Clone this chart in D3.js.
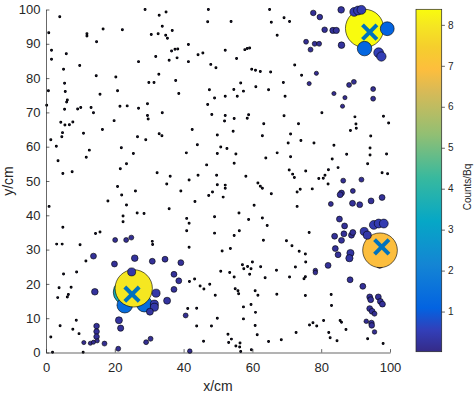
<!DOCTYPE html>
<html>
<head>
<meta charset="utf-8">
<script src="https://cdn.jsdelivr.net/npm/d3@7"></script>
<style>
  html, body { margin: 0; padding: 0; background: #fff; }
  svg { display: block; }
  text { font-family: "Liberation Sans", Arial, sans-serif; fill: #262626; }
</style>
</head>
<body>
<div id="screen"></div>
<script>
// tick labels
var xTicks = [0, 20, 40, 60, 80, 100];
var yTicks = [0, 10, 20, 30, 40, 50, 60, 70, 80, 90, 100];
var cbTicks = [1, 2, 3, 4, 5, 6, 7, 8];
var countRange = [0.02, 8.38];   // colour limits of the colour bar

// positions with (almost) no counts, drawn as tiny dots
var dotCount = 0.02;
var dots = [
  [28.8,100.0],[4.0,97.9],[32.9,98.3],[34.9,99.3],[47.2,100.0],[47.0,96.4],[16.6,94.3],[22.2,94.1],
  [11.9,92.9],[11.9,92.3],[33.8,95.1],[30.6,92.7],[32.6,92.9],[34.8,92.5],[35.3,91.6],[36.7,93.9],
  [14.7,90.6],[0.8,93.2],[41.4,89.8],[1.6,88.1],[5.9,87.1],[1.6,85.5],[36.5,87.9],[37.5,88.4],
  [38.3,88.5],[31.9,86.3],[35.8,85.2],[38.1,85.9],[41.4,84.8],[44.2,86.8],[45.6,87.3],[47.9,84.0],
  [49.4,83.0],[26.9,84.8],[9.8,83.7],[5.1,82.6],[14.6,80.7],[20.3,80.3],[32.8,81.1],[29.9,78.7],
  [31.4,78.7],[37.7,79.3],[5.4,78.5],[5.6,76.1],[0.7,76.3],[20.8,76.3],[15.7,75.3],[38.6,75.5],
  [47.5,76.6],[49.0,74.2],[6.2,73.6],[6.0,73.0],[0.2,72.1],[5.4,70.9],[9.2,71.0],[10.1,71.4],
  [13.1,71.4],[13.8,69.9],[21.5,71.8],[23.6,71.9],[26.9,71.2],[29.5,72.5],[33.8,69.9],[29.5,69.1],
  [29.7,68.1],[47.0,72.3],[48.2,69.4],[4.3,67.1],[5.5,66.3],[6.8,66.4],[7.8,67.2],[19.8,67.6],
  [65.0,100.0],[53.8,96.5],[65.5,96.3],[69.2,97.6],[70.8,96.5],[67.2,92.5],[52.1,88.1],[57.8,88.3],
  [58.5,88.6],[59.2,88.8],[55.4,85.7],[72.3,83.8],[59.8,82.6],[60.9,82.3],[62.3,81.9],[65.3,81.8],
  [74.3,80.8],[54.6,76.7],[56.6,78.6],[57.4,76.2],[61.0,77.5],[64.7,76.6],[69.0,78.7],[52.1,74.7],
  [55.6,74.7],[69.5,74.7],[52.1,69.1],[51.9,67.5],[54.7,68.2],[58.9,69.3],[58.5,68.3],[69.2,69.0],
  [73.4,66.7],[63.3,66.7],[80.2,69.9],[89.8,68.7],[98.1,68.9],
  [10.9,63.9],[16.4,65.0],[1.4,62.0],[4.8,64.1],[4.6,62.9],[3.0,60.1],[3.5,55.9],[4.9,52.2],
  [7.6,52.7],[12.6,59.0],[11.7,56.9],[21.9,59.7],[25.4,58.0],[26.6,62.9],[29.0,62.0],[32.9,63.8],
  [33.7,63.2],[23.4,55.0],[21.6,53.6],[32.3,52.4],[36.1,51.4],[35.1,49.1],[20.8,48.4],[22.0,45.9],
  [26.0,47.1],[18.0,44.2],[23.4,43.0],[0.9,42.6],[26.5,40.7],[28.5,40.5],[22.4,39.8],[22.4,38.1],
  [35.8,41.9],[39.2,47.1],[40.8,58.2],[42.5,65.0],[44.0,60.6],[46.7,54.7],[44.2,51.7],[41.6,50.3],
  [49.6,51.7],[49.8,48.9],[47.3,45.8],[48.4,46.8],[43.3,44.0],[40.9,39.1],[41.6,37.7],[40.9,35.5],
  [49.0,39.6],[49.0,34.8],[49.8,58.0],[49.8,63.4],[4.9,36.5],[14.4,34.7],[15.7,35.1],
  [54.4,64.5],[62.9,63.2],[50.8,59.9],[52.6,59.5],[55.2,57.9],[54.7,55.2],[71.1,63.7],[70.4,61.1],
  [74.1,61.8],[77.9,61.1],[67.2,58.2],[63.9,56.7],[71.1,57.1],[70.7,53.2],[71.7,52.0],[72.2,51.0],
  [75.5,52.9],[58.1,51.4],[61.6,49.4],[62.3,48.5],[62.9,47.9],[52.1,48.8],[52.1,47.9],[51.5,45.3],
  [65.5,46.3],[73.0,46.8],[73.9,47.6],[77.4,47.7],[79.3,50.7],[80.6,50.8],[81.1,51.7],[82.1,53.3],
  [82.0,49.1],[84.9,53.9],[83.2,56.4],[83.7,60.4],[87.4,57.8],[88.5,64.7],[90.1,66.6],[90.2,65.4],
  [94.4,63.1],[94.2,59.6],[94.2,57.6],[99.0,57.9],[93.5,55.0],[97.7,52.4],[99.3,52.1],[99.6,66.9],
  [56.1,40.7],[58.9,38.8],[60.5,42.9],[62.9,39.2],[64.3,37.0],[73.0,42.6],[54.7,34.1],[56.2,35.5],
  [63.2,32.7],[76.5,35.0],[69.9,32.6],
  [3.1,31.6],[4.7,31.6],[9.9,31.4],[30.9,32.4],[31.0,31.5],[41.6,30.7],[11.6,26.7],[5.1,22.9],
  [8.9,23.5],[3.8,18.9],[7.3,19.0],[3.4,16.0],[6.2,16.2],[6.5,16.9],[8.8,9.4],[4.1,7.8],
  [7.8,6.8],[9.6,5.5],[1.4,4.5],[1.9,0.1],[10.8,0.1],[41.2,12.8],[43.8,12.9],[41.7,20.7],
  [43.2,21.4],[44.8,19.4],[45.9,18.5],[47.6,19.9],[49.2,16.7],[43.8,7.7],[48.1,7.7],[49.8,10.0],
  [45.8,3.3],
  [51.2,29.6],[53.6,30.3],[71.5,31.1],[73.6,29.5],[75.4,28.7],[75.5,26.4],[72.5,24.9],[70.8,22.0],
  [75.0,21.5],[75.4,22.1],[85.5,9.3],[85.9,8.8],[87.2,6.7],[84.6,3.4],[82.2,5.8],[82.6,4.3],
  [80.7,9.3],[78.7,7.7],[77.6,8.7],[76.6,8.0],[72.7,5.8],[68.4,3.7],[64.7,3.2],[75.4,16.6],
  [67.1,17.0],[61.6,16.7],[60.8,18.0],[55.8,18.0],[55.0,18.6],[56.0,17.1],[57.4,13.3],[59.6,14.0],
  [60.9,11.7],[57.4,9.8],[60.8,7.9],[61.4,5.2],[52.9,5.3],[53.9,3.9],[53.1,2.9],[55.2,1.9],
  [56.4,2.8],[56.3,1.6],[56.6,0.3],[59.7,0.8],[50.8,23.7],[53.4,23.3],[54.7,22.0],[57.1,25.6],
  [57.5,24.4],[58.6,25.1],[59.6,24.4],[60.0,26.4],[59.2,22.8],[62.4,25.0],[63.7,21.8],[67.0,24.0],
  [98.0,2.6],[93.5,4.0],[82.9,16.9],[83.0,13.7]
];

// positions with counts: [x, y, counts/Bq], in drawing order
var hitsUnder = [
  [23.2,17.6,3.6],[22.9,13.8,1.4],[28.6,14.1,1.4],[97.0,25.5,0.25]
];
var hitsBig = [
  [25.5,18.7,8.0],[92.6,94.5,8.38],[97.1,29.8,6.9]
];
var hitsTopRight = [
  [77.7,99.0,0.18],[79.6,97.8,0.18],[85.8,99.9,0.25],[89.6,99.3,0.45],[90.7,99.7,0.45],[91.7,99.9,0.45],
  [81.0,94.1,0.18],[83.4,93.9,0.22],[84.4,93.9,0.22],[75.6,90.6,0.14],[78.1,90.0,0.14],[79.4,90.0,0.14],
  [76.9,88.3,0.14],[85.9,89.6,0.25],[92.6,88.6,1.2],[99.2,94.4,1.1],[96.7,87.4,0.55],[97.5,86.3,0.5],
  [88.1,78.0,0.14],[89.5,78.9,0.14],[95.1,76.8,0.14],[95.1,74.0,0.14],[83.7,75.5,0.1],[86.9,74.3,0.1],
  [86.2,71.8,0.1],[78.6,81.4,0.1],[76.5,78.4,0.1]
];
var hitsRight = [
  [86.4,50.1,0.14],[91.7,50.4,0.14],[85.9,46.5,0.2],[85.5,46.0,0.2],[89.2,47.1,0.14],[89.1,43.5,0.2],
  [91.2,43.1,0.2],[94.5,44.2,0.2],[97.7,45.2,0.2],[82.8,43.3,0.14],[85.3,38.9,0.2],[86.8,36.9,0.2],
  [86.6,34.6,0.2],[88.8,34.2,0.2],[89.2,35.0,0.2],[83.9,33.9,0.2],[85.9,32.7,0.2],[92.5,35.3,0.37],
  [93.4,34.2,0.37],[95.3,37.2,0.45],[96.7,37.6,0.45],[98.2,37.6,0.45],
  [78.3,23.9,0.12],[78.3,23.3,0.12],[82.0,25.4,0.2],[84.1,30.3,0.2],[84.9,28.5,0.2],[88.5,29.0,0.3],
  [88.2,27.5,0.3],[88.4,21.2,0.2],[92.1,19.3,0.2],[94.1,16.2,0.2],[94.4,15.4,0.2],[96.6,16.2,0.2],
  [97.2,14.9,0.2],[97.8,14.1,0.2],[94.1,12.8,0.2],[94.8,12.0,0.2],[95.5,11.3,0.14],[93.1,9.1,0.12],
  [94.6,8.6,0.18],[94.7,7.9,0.18],[95.5,6.0,0.12]
];
var hitsLowerLeft = [
  [13.8,28.1,0.2],[19.9,25.8,0.2],[25.8,27.5,0.25],[30.9,26.6,0.2],[34.6,27.2,0.2],[39.2,26.2,0.2],
  [14.2,17.7,0.25],[24.9,23.5,0.37],[37.2,22.8,0.2],[38.6,20.9,0.2],[37.2,18.4,0.2],[35.2,15.1,0.28],
  [32.0,17.3,0.37],[31.5,14.1,0.37],[31.5,13.2,0.37],[30.2,11.9,0.28],[21.2,9.4,0.28],[21.7,7.1,0.22],
  [29.1,3.0,0.14],[30.4,4.0,0.14],[40.6,10.8,0.14],[14.7,7.7,0.18],[14.7,6.1,0.18],[14.7,4.6,0.18],
  [17.0,2.6,0.14],[21.0,1.1,0.14],[41.8,0.4,0.12],[20.1,32.8,0.14],[23.3,32.8,0.14],[24.8,33.5,0.14],
  [11.0,2.9,0.1],[12.9,2.7,0.1],[13.8,3.0,0.1],[14.9,3.4,0.1]
];

// estimated source positions
var sources = [[25.0,17.0],[94.1,93.4],[97.6,30.8]];

// parula colour map (position, colour)
var parulaStops = [
  [0.000, "#352a87"], [0.063, "#323fb9"], [0.127, "#0363e1"], [0.254, "#1485d4"],
  [0.381, "#06a7c6"], [0.508, "#38b99e"], [0.635, "#92bf73"], [0.762, "#d9ba56"],
  [0.825, "#fdbe3d"], [0.889, "#f5ce2d"], [0.952, "#f5e622"], [1.000, "#f9fb0e"]
];

var W = 474, H = 399;
var plot = {left: 46, right: 390, top: 9.5, bottom: 352.5};
var cb = {left: 416, right: 441.7, top: 9.3, bottom: 351.7};
var axisColor = "#262626";

var svg = d3.select("#screen").append("svg").attr("width", W).attr("height", H);

var x = d3.scaleLinear().domain([0, 100]).range([plot.left, plot.right]);
var y = d3.scaleLinear().domain([0, 100]).range([plot.bottom, plot.top]);
var rScale = d3.scaleSqrt().domain([0, countRange[1]]).range([0, 19.1]);
var parula = d3.scaleLinear()
    .domain(parulaStops.map(function(d) { return d[0]; }))
    .range(parulaStops.map(function(d) { return d[1]; }))
    .interpolate(d3.interpolateRgb).clamp(true);
var tScale = d3.scaleLinear().domain(countRange).range([0, 1]).clamp(true);
var colorOf = function(v) { return parula(tScale(v)); };

// scatter
var drawHits = function(data, cls, edge) {
    svg.append("g").attr("class", cls).selectAll("circle").data(data).enter().append("circle")
        .attr("cx", function(d) { return x(d[0]); })
        .attr("cy", function(d) { return y(d[1]); })
        .attr("r", function(d) { return rScale(d[2]); })
        .attr("fill", function(d) { return colorOf(d[2]); })
        .attr("stroke", "#000")
        .attr("stroke-width", edge);
};

drawHits(dots.map(function(d) { return [d[0], d[1], dotCount]; }), "dots", 1.1);
drawHits(hitsUnder, "under", 0.6);
drawHits(hitsBig, "big", 0.6);
drawHits(hitsTopRight, "tr", 0.6);
drawHits(hitsRight, "right", 0.6);
drawHits(hitsLowerLeft, "ll", 0.6);

svg.append("g").selectAll("path").data(sources).enter().append("path")
    .attr("transform", function(d) { return "translate(" + x(d[0]) + "," + y(d[1]) + ")"; })
    .attr("d", "M-7.2,-7.2L7.2,7.2M7.2,-7.2L-7.2,7.2")
    .attr("stroke", "#0072bd")
    .attr("stroke-width", 4)
    .attr("fill", "none");

// axes (only left and bottom, ticks inward)
var styleAxis = function(g) {
    g.selectAll("path.domain").attr("stroke", axisColor).attr("stroke-width", 0.7);
    g.selectAll(".tick line").attr("stroke", axisColor).attr("stroke-width", 0.7);
    g.selectAll(".tick text").attr("fill", axisColor)
        .style("font-family", "'Liberation Sans', Arial, sans-serif").style("font-size", "13px");
};

svg.append("g")
    .attr("transform", "translate(0," + plot.bottom + ")")
    .call(d3.axisBottom(x).tickValues(xTicks).tickSizeInner(-3.4).tickSizeOuter(0).tickPadding(10.5))
    .call(styleAxis);

svg.append("g")
    .attr("transform", "translate(" + plot.left + ",0)")
    .call(d3.axisLeft(y).tickValues(yTicks).tickSizeInner(-3.4).tickSizeOuter(0).tickPadding(5.5))
    .call(styleAxis);

svg.append("text")
    .attr("x", (plot.left + plot.right) / 2).attr("y", 391)
    .attr("text-anchor", "middle").style("font-size", "14px")
    .text("x/cm");

svg.append("text")
    .attr("transform", "translate(13," + ((plot.top + plot.bottom) / 2) + ") rotate(-90)")
    .attr("text-anchor", "middle").style("font-size", "14px")
    .text("y/cm");

// colour bar
var grad = svg.append("defs").append("linearGradient")
    .attr("id", "parula").attr("x1", 0).attr("y1", 1).attr("x2", 0).attr("y2", 0);
grad.selectAll("stop").data(parulaStops).enter().append("stop")
    .attr("offset", function(d) { return d[0]; })
    .attr("stop-color", function(d) { return d[1]; });

var cy = d3.scaleLinear().domain(countRange).range([cb.bottom, cb.top]);

svg.append("rect")
    .attr("x", cb.left).attr("y", cb.top)
    .attr("width", cb.right - cb.left).attr("height", cb.bottom - cb.top)
    .attr("fill", "url(#parula)")
    .attr("stroke", axisColor).attr("stroke-width", 0.7);

var cbAxis = svg.append("g")
    .attr("transform", "translate(" + cb.right + ",0)")
    .call(d3.axisRight(cy).tickValues(cbTicks).tickSizeInner(3.2).tickSizeOuter(0).tickPadding(3));
cbAxis.select("path.domain").remove();
cbAxis.selectAll(".tick line").attr("stroke", axisColor).attr("stroke-width", 0.7);
cbAxis.selectAll(".tick text").attr("fill", axisColor)
    .style("font-family", "'Liberation Sans', Arial, sans-serif").style("font-size", "10px");

svg.append("text")
    .attr("transform", "translate(470.5,187) rotate(-90)")
    .attr("text-anchor", "middle").style("font-size", "10px")
    .text("Counts/Bq");
</script>
</body>
</html>
